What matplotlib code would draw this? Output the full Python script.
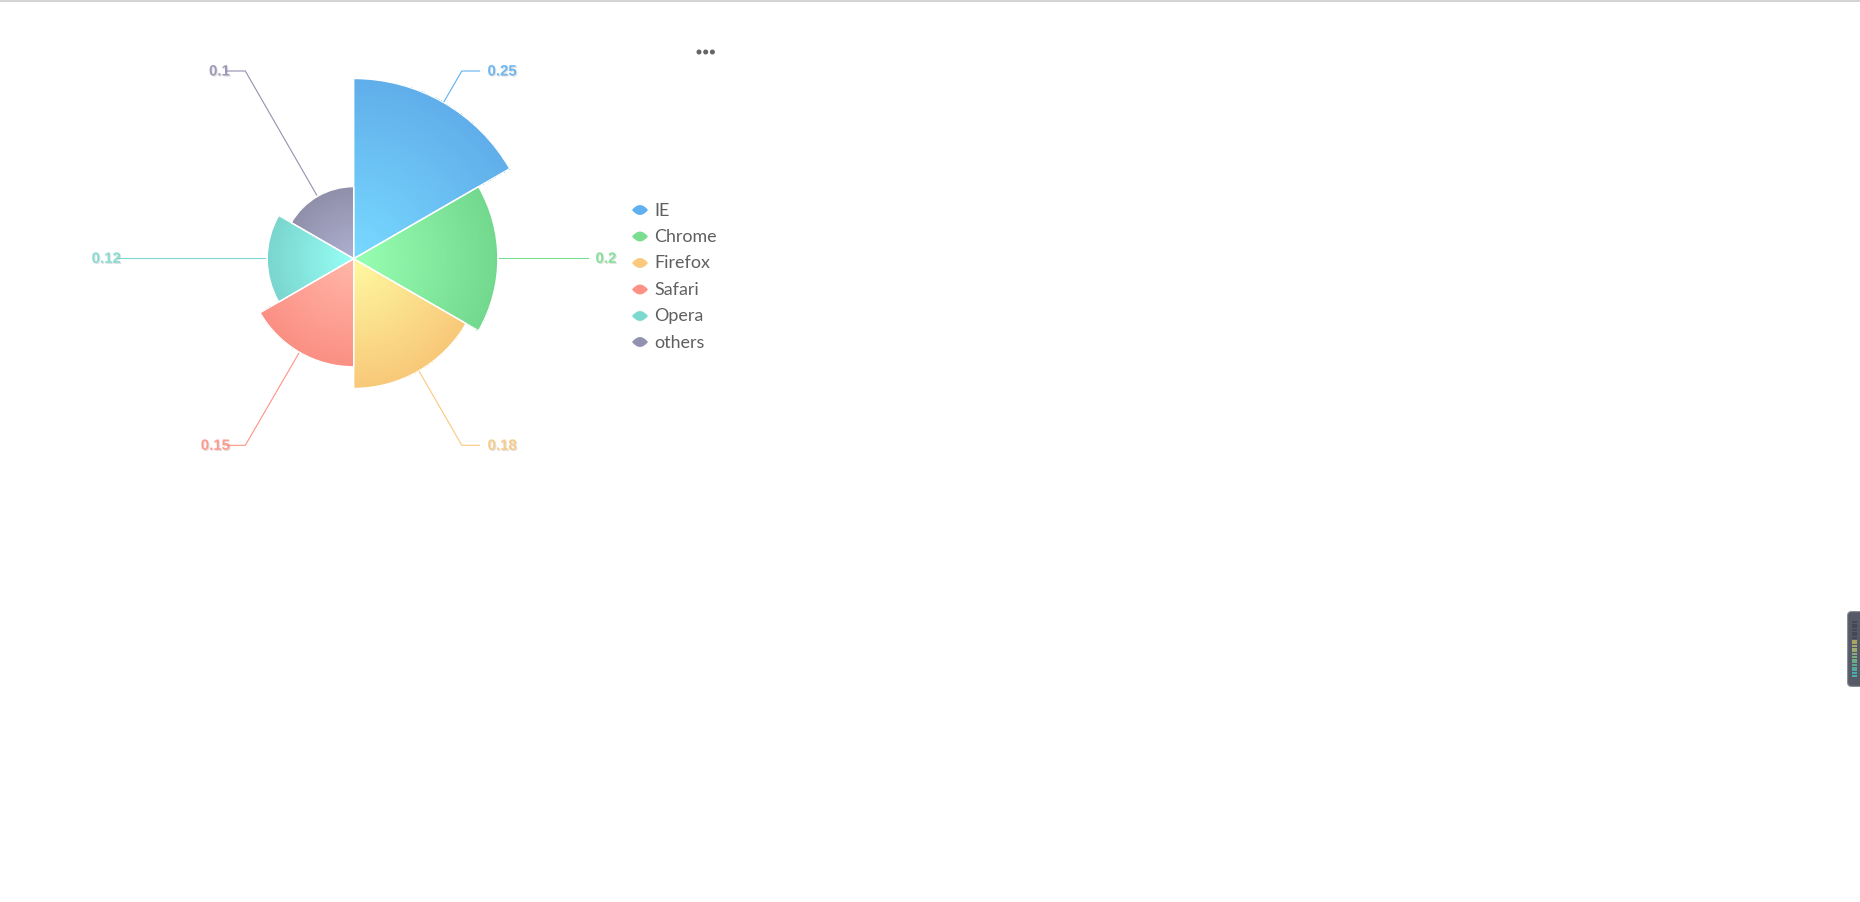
import numpy as np
import matplotlib
matplotlib.use('Agg')
import matplotlib.pyplot as plt
import matplotlib.patheffects as pe
from matplotlib.colors import LinearSegmentedColormap
from matplotlib.patches import PathPatch, FancyBboxPatch, Circle
from matplotlib.path import Path

categories = ['IE', 'Chrome', 'Firefox', 'Safari', 'Opera', 'others']
values = [0.25, 0.2, 0.18, 0.15, 0.12, 0.1]
value_labels = ['0.25', '0.2', '0.18', '0.15', '0.12', '0.1']
inner_colors = ['#78D9FF', '#97FFB2', '#FFF9A1', '#FFB7A8', '#97FFF6', '#AEAFD0']
outer_colors = ['#60AEEA', '#72D88E', '#F7C878', '#FB8F84', '#79D5CE', '#908FAA']
legend_colors = ['#5FB0F0', '#7ADD90', '#FAC97C', '#FF9284', '#7BD9D0', '#9391B0']

W, H = 1860, 902
cx, cy = 353.7, 258.7
px_per_value = 180.2 / 0.25
rmax = 0.26


def drawRose(fig):
    size = rmax * px_per_value
    ax = fig.add_axes([(cx - size) / W, (H - cy - size) / H, 2 * size / W, 2 * size / H],
                      projection='polar')
    ax.set_theta_zero_location('N')
    ax.set_theta_direction(-1)
    ax.set_ylim(0, rmax)
    ax.axis('off')
    ax.patch.set_alpha(0)

    width = 2 * np.pi / len(values)
    for i, v in enumerate(values):
        theta = np.linspace(i * width, (i + 1) * width, 81)
        r = np.linspace(0, v, 61)
        T, R = np.meshgrid(theta, r)
        C = (R[:-1, :-1] + R[1:, 1:]) / 2 / v
        cmap = LinearSegmentedColormap.from_list('c', [inner_colors[i], outer_colors[i]])
        ax.pcolormesh(T, R, C, cmap=cmap, vmin=0, vmax=1, shading='flat', antialiased=False)
        ax.bar(i * width, v, width=width, align='edge', facecolor='none',
               edgecolor='white', linewidth=1.0, zorder=3)


def drawLeaders(ov):
    # (start, elbow, end) of each leader line, label x and alignment
    lines = [
        ([444, 461.8, 479.6], [101.7, 71, 71], 487.5, 71.5, 'left'),
        ([499.3, 588], [258.3, 258.3], 595.5, 258.8, 'left'),
        ([419.4, 461.8, 479.6], [371.7, 445.3, 445.3], 487.5, 445.8, 'left'),
        ([298.8, 245.3, 227], [353.3, 445.3, 445.3], 230, 445.8, 'right'),
        ([265.4, 118], [258.3, 258.3], 121, 258.8, 'right'),
        ([316.7, 245.3, 226], [195, 71, 71], 230, 71.5, 'right'),
    ]
    for (xs, ys, tx, ty, ha), col, lab in zip(lines, legend_colors, value_labels):
        ov.plot(xs, ys, color=col, lw=0.8, solid_joinstyle='miter', zorder=2)
        t = ov.text(tx, ty, lab, color=col, fontsize=10.8, fontweight='bold',
                    family='Liberation Sans', ha=ha, va='center', zorder=3, alpha=0.9)
        t.set_path_effects([pe.withSimplePatchShadow(offset=(0.8, -0.8), alpha=0.25,
                                                     shadow_rgbFace='#888888')])


def drawLegend(ov):
    ys = [210, 236.5, 263, 289.5, 316, 342]
    for name, col, y in zip(categories, legend_colors, ys):
        verts = [(632, y), (640, y - 10), (648, y), (640, y + 10), (632, y)]
        codes = [Path.MOVETO, Path.CURVE3, Path.CURVE3, Path.CURVE3, Path.CURVE3]
        ov.add_patch(PathPatch(Path(verts, codes), facecolor=col, edgecolor='none', zorder=3))
        ov.text(654.5, y + 0.5, name, color='#5f5f5f', fontsize=12.9, family='Lato',
                ha='left', va='center', zorder=3)


def drawExtras(ov):
    # top page border
    ov.plot([0, W], [0.5, 0.5], color='#cccccc', lw=1.2, zorder=1)
    # toolbox dots
    for x in [699, 705.7, 712.4]:
        ov.add_patch(Circle((x, 52), 1.8, color='#666666', zorder=3))
    # side widget
    ov.add_patch(FancyBboxPatch((1850, 614), 20, 70, boxstyle='round,pad=2.4,rounding_size=4',
                                facecolor='#565a66', edgecolor='#8a8d95', lw=0.8, zorder=2))
    bar_colors = ['#41454f'] * 7 + ['#c4b860', '#c2bd66', '#bec26c', '#b8c672', '#a8c678', '#9ac67e',
                                    '#8cc686', '#7cc48e', '#6ec294', '#60c29e', '#58c2a6', '#4ec4b2',
                                    '#46c4ba', '#42ccc6']
    ys = np.arange(len(bar_colors)) * 2.68 + 622
    for y, c in zip(ys, bar_colors):
        ov.plot([1852.2, 1857.3], [y, y], color=c, lw=1.1, solid_capstyle='butt', zorder=3)


def main():
    fig = plt.figure(figsize=(W / 100, H / 100), dpi=100, facecolor='white')
    drawRose(fig)
    ov = fig.add_axes([0, 0, 1, 1], facecolor='none')
    ov.set_xlim(0, W)
    ov.set_ylim(H, 0)
    ov.axis('off')
    drawLeaders(ov)
    drawLegend(ov)
    drawExtras(ov)
    fig.savefig('out.png', dpi=100)


if __name__ == '__main__':
    main()
